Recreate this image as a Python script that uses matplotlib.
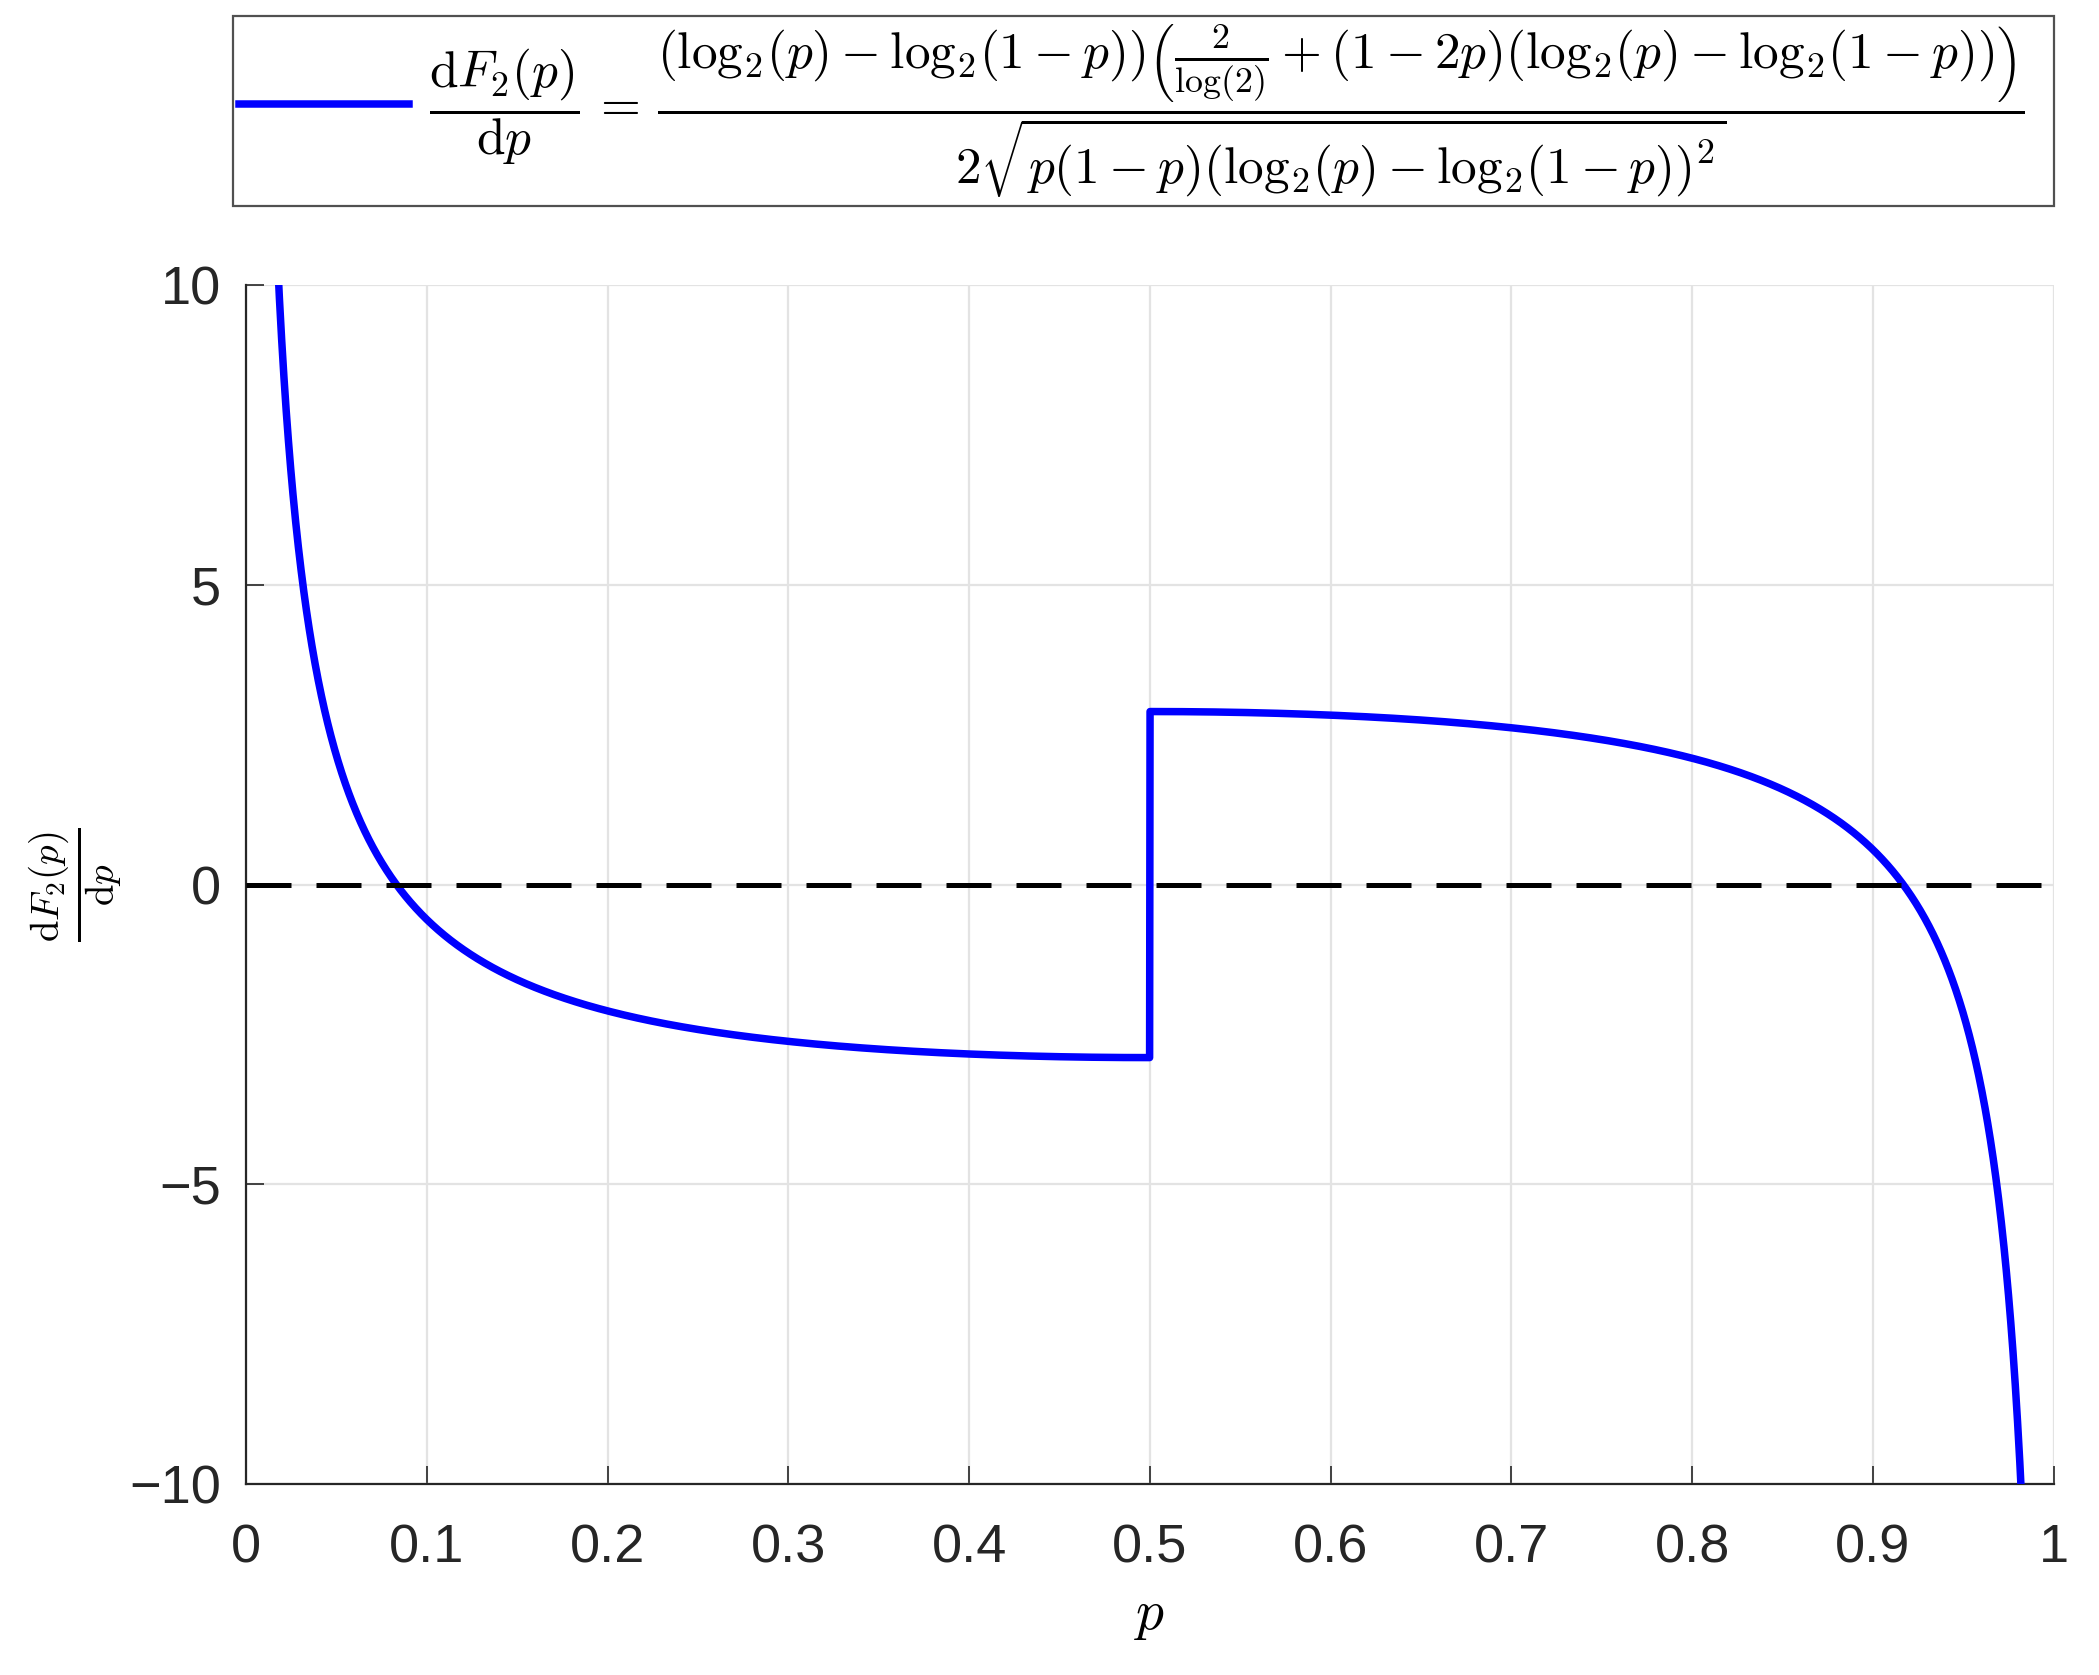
import numpy as np
import matplotlib.pyplot as plt

# sample grid in p (even count so p=0.5 itself is skipped, where the formula is 0/0)
p = np.linspace(0.0005, 0.9995, 4000)

x_ticks = [0, 0.1, 0.2, 0.3, 0.4, 0.5, 0.6, 0.7, 0.8, 0.9, 1]
x_tick_labels = ['0', '0.1', '0.2', '0.3', '0.4', '0.5', '0.6', '0.7', '0.8', '0.9', '1']
y_ticks = [-10, -5, 0, 5, 10]
y_tick_labels = ['\u221210', '\u22125', '0', '5', '10']

# the function named in the legend
L = np.log2(p) - np.log2(1 - p)
dF = L * (2 / np.log(2) + (1 - 2 * p) * L) / (2 * np.sqrt(p * (1 - p) * L ** 2))

plt.rcParams['mathtext.fontset'] = 'cm'
plt.rcParams['font.family'] = ['Liberation Sans', 'DejaVu Sans']

fig = plt.figure(figsize=(10.495, 8.375), dpi=200)
ax = fig.add_axes([0.1172, 0.1139, 0.8612, 0.716])

lg = r'\mathrm{log}_2'
label = (r'$\dfrac{\mathrm{d}F_2(p)}{\mathrm{d}p} \,=\, '
         r'\dfrac{(LG(p) - LG(1-p))\left(\frac{2}{\mathrm{log}(2)} + (1-2p)(LG(p) - LG(1-p))\right)}'
         r'{2\sqrt{p(1-p)(LG(p) - LG(1-p))^2}}$').replace('LG', lg)

ax.plot(p, dF, color='#0000ff', lw=2.7, label=label, zorder=3)
ax.plot([0, 1], [0, 0], color='black', lw=1.8, dashes=(9, 5), zorder=4)

ax.set_xlim(0, 1)
ax.set_ylim(-10, 10)
ax.set_xticks(x_ticks)
ax.set_xticklabels(x_tick_labels)
ax.set_yticks(y_ticks)
ax.set_yticklabels(y_tick_labels)
ax.tick_params(direction='in', length=6.5, width=0.6, labelsize=19.5, colors='#262626')
ax.tick_params(axis='x', pad=14)
ax.tick_params(axis='y', pad=9)
ax.grid(True, color='#e3e3e3', lw=0.8)
ax.set_axisbelow(True)

for s in ['top', 'right']:
    ax.spines[s].set_visible(False)
for s in ['left', 'bottom']:
    ax.spines[s].set_color('#262626')
    ax.spines[s].set_linewidth(0.8)

ax.set_xlabel(r'$p$', fontsize=20, labelpad=6)
ax.set_ylabel(r'$\frac{\mathrm{d}F_2(p)}{\mathrm{d}p}$', fontsize=20, labelpad=2)

leg = ax.legend(loc='lower left', bbox_to_anchor=(-0.0072, 1.066, 1.0072, 0.153),
                mode='expand', fontsize=18.5, frameon=True, fancybox=False,
                handlelength=3.3, handletextpad=0.4, borderaxespad=0, borderpad=0.12)
leg.get_frame().set_edgecolor('#262626')
leg.get_frame().set_linewidth(0.8)

plt.savefig('out.png')
